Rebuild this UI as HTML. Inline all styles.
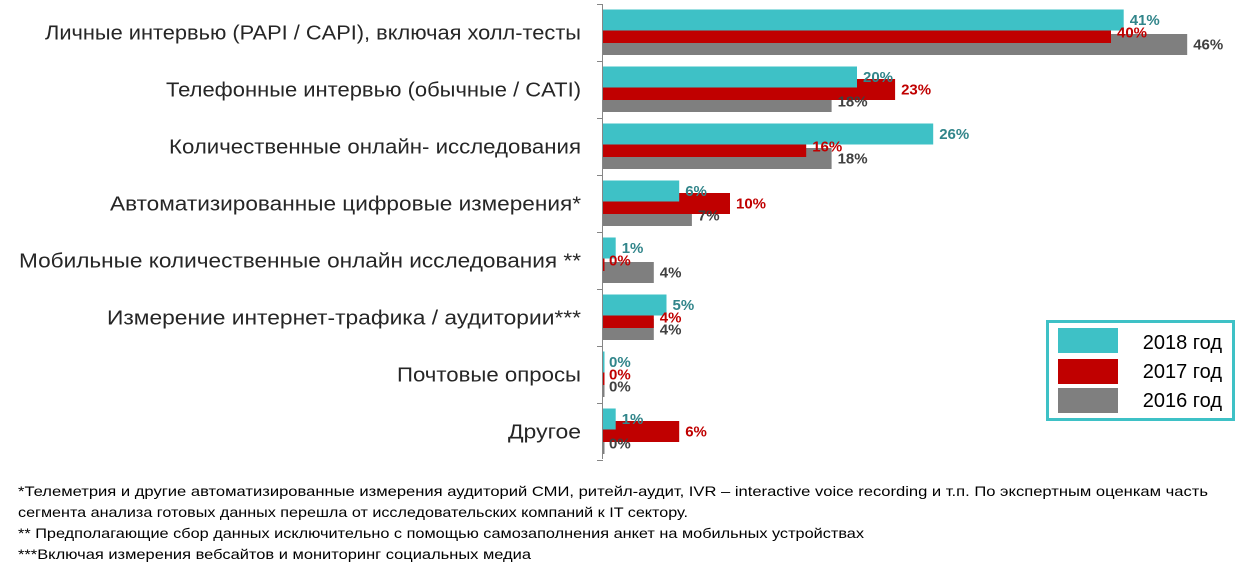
<!DOCTYPE html>
<html><head><meta charset="utf-8"><style>
body{margin:0;background:#fff;}
svg{display:block;font-family:"Liberation Sans","DejaVu Sans",sans-serif;}
</style></head><body>
<svg id="chart" width="1244" height="564" viewBox="0 0 1244 564">
<g id="bars"></g>
<g id="labels"></g>
<line x1="602.5" y1="4" x2="602.5" y2="459" stroke="#868686" stroke-width="1"/>
<g id="ticks"></g>
<g>
<rect x="1047.5" y="321.5" width="186" height="98" fill="#fff" stroke="#3EC1C6" stroke-width="3"/>
<rect x="1058" y="328" width="60" height="25" fill="#3EC1C6"/>
<text x="1222" y="349" font-size="20" text-anchor="end" fill="#000">2018 год</text>
<rect x="1058" y="359" width="60" height="25" fill="#C00000"/>
<text x="1222" y="378" font-size="20" text-anchor="end" fill="#000">2017 год</text>
<rect x="1058" y="388" width="60" height="25" fill="#7F7F7F"/>
<text x="1222" y="407" font-size="20" text-anchor="end" fill="#000">2016 год</text>
</g>
<g font-size="14" fill="#000">
<text x="18" y="496" textLength="1190" lengthAdjust="spacingAndGlyphs">*Телеметрия и другие автоматизированные измерения аудиторий СМИ, ритейл-аудит, IVR – interactive voice recording и т.п. По экспертным оценкам часть</text>
<text x="18" y="517" textLength="670" lengthAdjust="spacingAndGlyphs">сегмента анализа готовых данных перешла от исследовательских компаний к IT сектору.</text>
<text x="18" y="538" textLength="846" lengthAdjust="spacingAndGlyphs">** Предполагающие сбор данных исключительно с помощью самозаполнения анкет на мобильных устройствах</text>
<text x="18" y="559" textLength="513" lengthAdjust="spacingAndGlyphs">***Включая измерения вебсайтов и мониторинг социальных медиа</text>
</g>
</svg>
<script>
const categories = ["Личные интервью (PAPI / CAPI), включая холл-тесты","Телефонные интервью (обычные / CATI)","Количественные онлайн- исследования","Автоматизированные цифровые измерения*","Мобильные количественные онлайн исследования **","Измерение интернет-трафика / аудитории***","Почтовые опросы","Другое"];
const labelWidths = [536,415,412,471,562,474,184,73];
const s2018 = [41,20,26,6,1,5,0,1];
const s2017 = [40,23,16,10,0,4,0,6];
const s2016 = [46,18,18,7,4,4,0,0];
const seriesNames = ["2016","2017","2018"];

const NS="http://www.w3.org/2000/svg";
const x0=603, pxPer=12.7, yTop=4, band=57;
const xScale=v=>x0+v*pxPer;
const bandY=i=>yTop+i*band;
const barH=21;
const series=[
 {name:"2016",vals:s2016,color:"#7F7F7F",lc:"#404040",off:30},
 {name:"2017",vals:s2017,color:"#C00000",lc:"#C00000",off:18},
 {name:"2018",vals:s2018,color:"#3EC1C6",lc:"#31858A",off:5.5}
];
const bars=document.getElementById('bars');
series.forEach(s=>{
 s.vals.forEach((v,i)=>{
  const y=bandY(i)+s.off;
  const w=Math.max(xScale(v)-x0,v===0?1.5:0);
  const r=document.createElementNS(NS,'rect');
  r.setAttribute('x',x0);r.setAttribute('y',y);r.setAttribute('width',w);r.setAttribute('height',barH);r.setAttribute('fill',s.color);
  
  
  bars.appendChild(r);
 });
});
series.forEach(s=>{
 s.vals.forEach((v,i)=>{
  const y=bandY(i)+s.off;
  const t=document.createElementNS(NS,'text');
  t.setAttribute('x',xScale(v)+6);t.setAttribute('y',y+barH/2+5);
  t.setAttribute('font-size','15');t.setAttribute('font-weight','bold');t.setAttribute('fill',s.lc);
  t.textContent=v+'%';
  
  
  bars.appendChild(t);
 });
});
const lab=document.getElementById('labels');
categories.forEach((c,i)=>{
 const t=document.createElementNS(NS,'text');
 t.setAttribute('x',581);t.setAttribute('y',bandY(i)+band/2+7);
 t.setAttribute('text-anchor','end');t.setAttribute('font-size','20');t.setAttribute('fill','#262626');
 t.setAttribute('textLength',labelWidths[i]);t.setAttribute('lengthAdjust','spacingAndGlyphs');
 t.textContent=c;
 
 
 lab.appendChild(t);
});
const ticks=document.getElementById('ticks');
for(let i=0;i<=categories.length;i++){
 const l=document.createElementNS(NS,'line');
 const y=bandY(i)+0.5;
 l.setAttribute('x1',597);l.setAttribute('x2',603);l.setAttribute('y1',y);l.setAttribute('y2',y);l.setAttribute('stroke','#868686');
 
 
 ticks.appendChild(l);
}
</script>
</body></html>
